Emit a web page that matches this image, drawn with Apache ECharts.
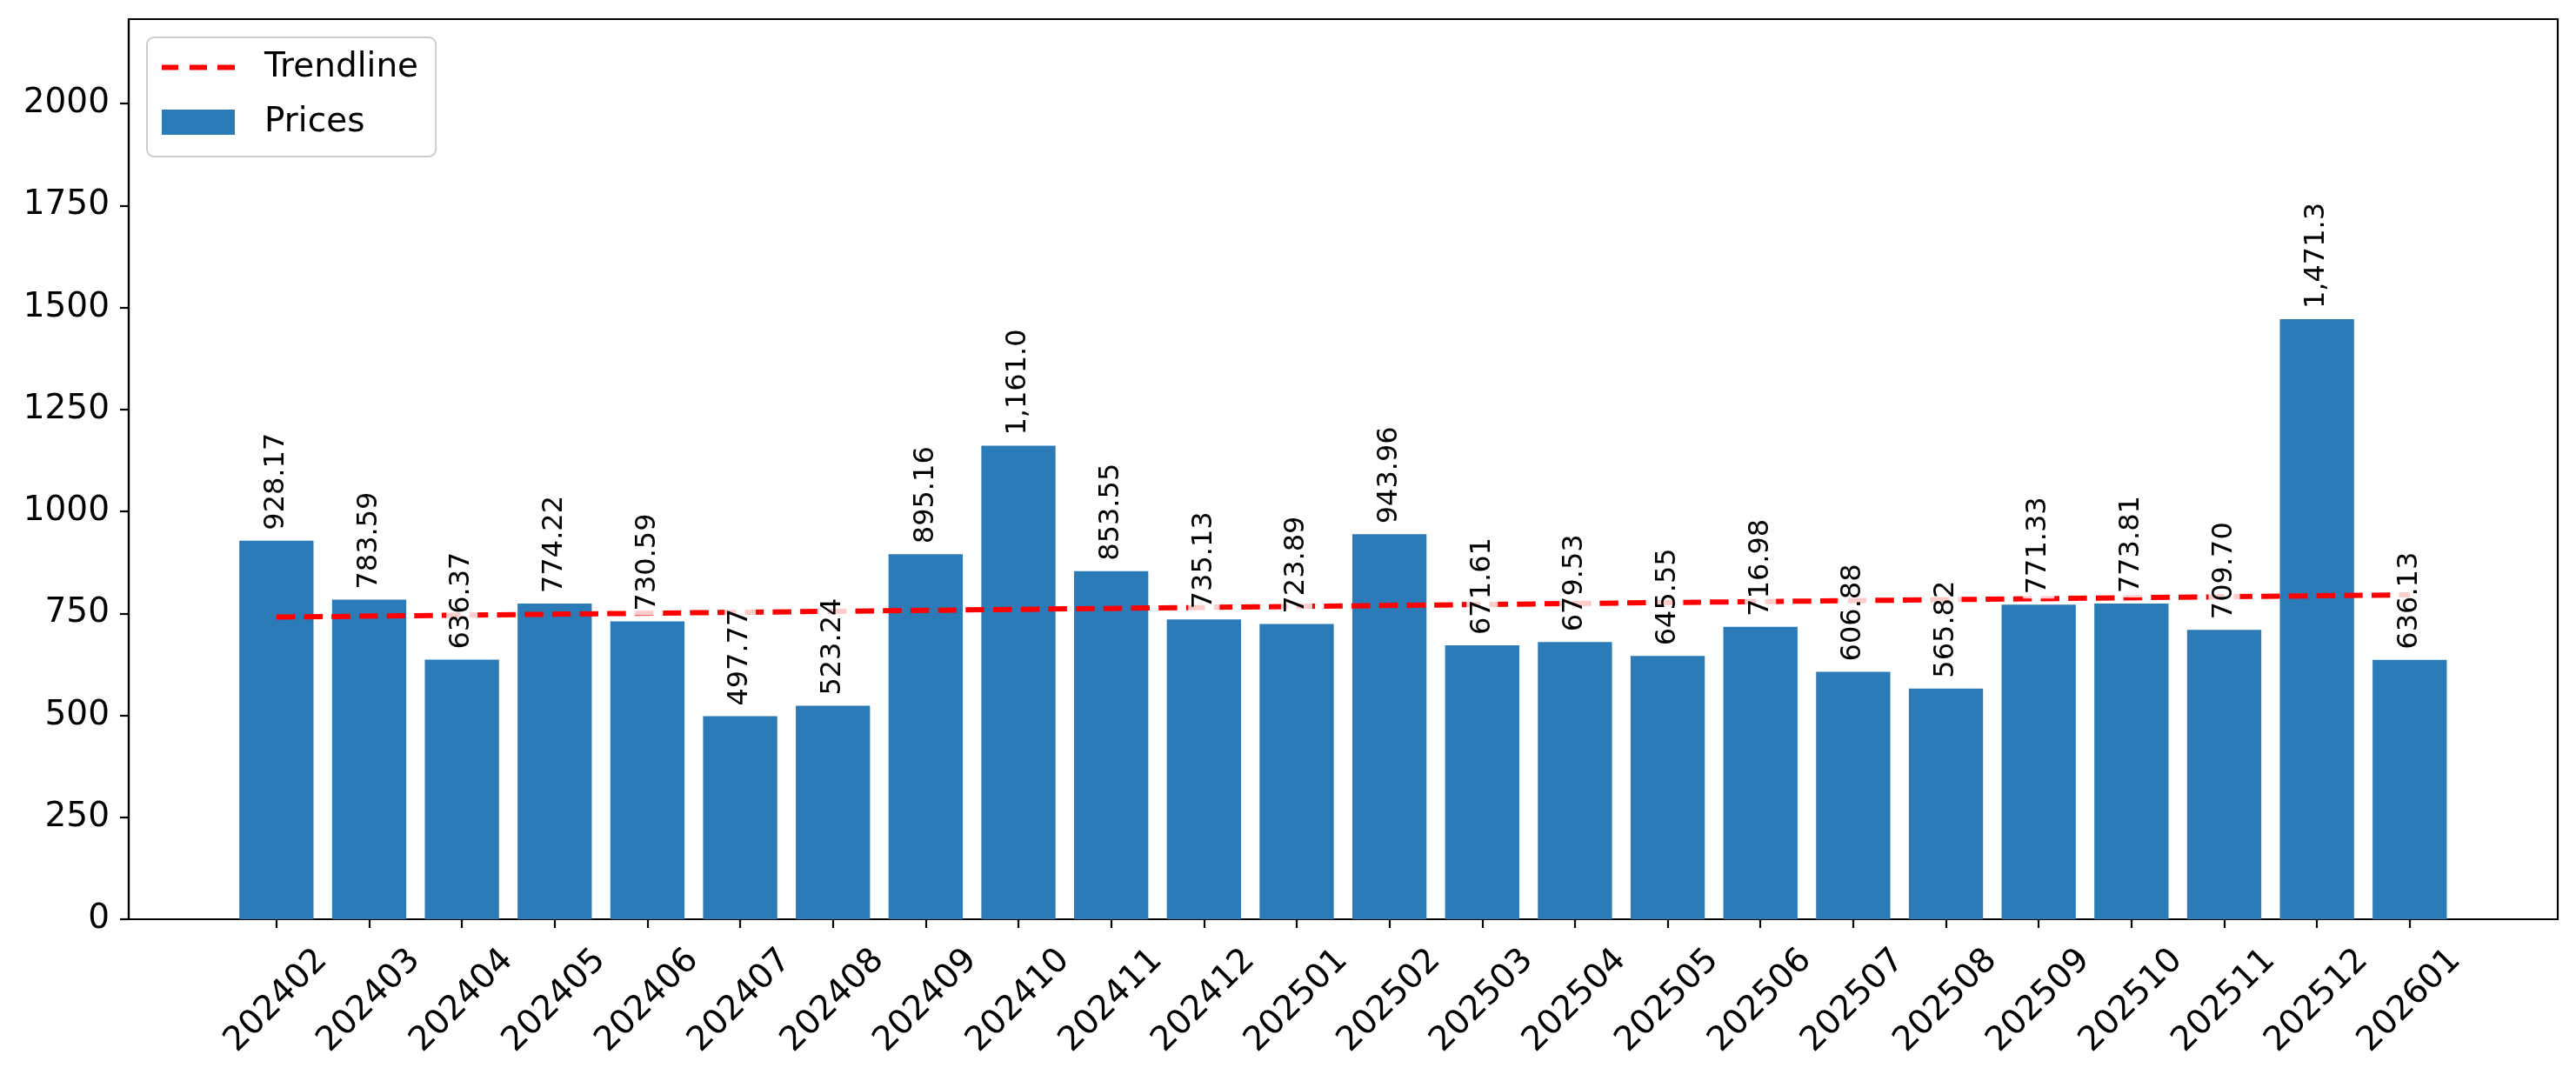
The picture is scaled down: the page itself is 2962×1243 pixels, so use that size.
<!DOCTYPE html>
<html>
<head>
<meta charset="utf-8">
<script src="https://cdn.jsdelivr.net/npm/echarts@6/dist/echarts.min.js"></script>
<style>
  html, body { margin: 0; padding: 0; background: #fff; }
  #chart { width: 2962px; height: 1243px; }
</style>
</head>
<body>
<div id="chart"></div>
<script>
const categories = ['202402','202403','202404','202405','202406','202407','202408','202409','202410','202411','202412','202501','202502','202503','202504','202505','202506','202507','202508','202509','202510','202511','202512','202601'];
const prices = [928.17, 783.59, 636.37, 774.22, 730.59, 497.77, 523.24, 895.16, 1161.0, 853.55, 735.13, 723.89, 943.96, 671.61, 679.53, 645.55, 716.98, 606.88, 565.82, 771.33, 773.81, 709.70, 1471.3, 636.13];
const trendEnds = [740.8, 795.5];
const yTicks = [0, 250, 500, 750, 1000, 1250, 1500, 1750, 2000];
const yMax = 2207;

const FONT = 'DejaVu Sans';

function fmt(v) {
  if (v >= 1000) {
    const s = v.toFixed(1);
    const parts = s.split('.');
    return parts[0].replace(/\B(?=(\d{3})+(?!\d))/g, ',') + '.' + parts[1];
  }
  return v.toFixed(2);
}

// dashed-line legend icon (invisible zero-size anchors keep the full item height)
const dashIcon = 'path://M0,0L0.01,0M0,29L0.01,29M0,11.5h19v6h-19zM32,11.5h20v6h-20zM64,11.5h20v6h-20z';

const chart = echarts.init(document.getElementById('chart'), null, { renderer: 'canvas' });
chart.setOption({
  animation: false,
  backgroundColor: '#ffffff',
  textStyle: { fontFamily: FONT },
  legend: {
    data: [
      { name: 'Trendline', icon: dashIcon, itemStyle: { color: '#ff0000', borderWidth: 0 } },
      { name: 'Prices', icon: 'rect' }
    ],
    orient: 'vertical',
    left: 169, top: 43,
    padding: [12, 20, 17, 17],
    itemWidth: 84, itemHeight: 29,
    itemGap: 18,
    backgroundColor: 'rgba(255,255,255,0.8)',
    borderColor: '#cccccc', borderWidth: 2, borderRadius: 8,
    textStyle: { fontFamily: FONT, fontSize: 39, color: '#000', lineHeight: 45, padding: [0, 0, 0, 29] },
    z: 10
  },
  grid: [
    { left: 148, right: 21, top: 22, bottom: 186, show: true, borderColor: '#000', borderWidth: 2.2, backgroundColor: 'transparent' },
    { left: 264.5, right: 137.9, top: 22, bottom: 186 }
  ],
  xAxis: [
    { type: 'value', gridIndex: 0, min: 0, max: 1, show: false },
    {
      type: 'category', gridIndex: 1, data: categories, boundaryGap: true,
      axisLine: { show: false },
      axisTick: { show: true, alignWithLabel: true, length: 10, lineStyle: { color: '#000', width: 2.2 } },
      axisLabel: { interval: 0, rotate: 45, align: 'center', verticalAlign: 'middle', margin: 94, fontFamily: FONT, fontSize: 39, color: '#000' },
      splitLine: { show: false }
    }
  ],
  yAxis: [
    {
      type: 'value', gridIndex: 0, min: 0, max: yMax,
      axisLine: { show: true, lineStyle: { color: '#000', width: 2.2 } },
      axisTick: { show: true, length: 10, lineStyle: { color: '#000', width: 2.2 }, customValues: yTicks },
      axisLabel: { margin: 22, fontFamily: FONT, fontSize: 39, color: '#000', customValues: yTicks, formatter: v => String(v) },
      splitLine: { show: false }
    },
    { type: 'value', gridIndex: 1, min: 0, max: yMax, show: false }
  ],
  series: [
    {
      name: 'Prices', type: 'bar', xAxisIndex: 1, yAxisIndex: 1,
      data: prices, barWidth: '80%', barGap: '-100%',
      itemStyle: { color: '#2b7bb9' },
      label: { show: false },
      z: 1
    },
    {
      name: 'Trendline', type: 'line', xAxisIndex: 1, yAxisIndex: 1,
      data: [[categories[0], trendEnds[0]], [categories[categories.length - 1], trendEnds[1]]],
      symbol: 'none',
      lineStyle: { color: '#ff0000', width: 6, type: [21.5, 10.2] },
      itemStyle: { color: '#ff0000' },
      z: 2
    },
    {
      name: 'PriceLabels', type: 'bar', xAxisIndex: 1, yAxisIndex: 1,
      data: prices, barWidth: '80%', barGap: '-100%',
      itemStyle: { color: 'rgba(0,0,0,0)' },
      label: {
        show: true, position: 'top', rotate: 90, align: 'left', verticalAlign: 'middle',
        distance: 7, fontFamily: FONT, fontSize: 32, color: '#000',
        backgroundColor: 'rgba(255,255,255,0.8)', padding: [2, 5],
        formatter: p => fmt(p.value)
      },
      silent: true,
      z: 3
    }
  ]
});
</script>
</body>
</html>
